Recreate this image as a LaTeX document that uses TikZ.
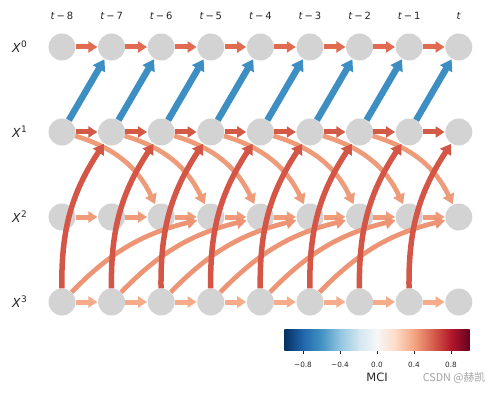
\documentclass[tikz,border=0pt]{standalone}
\usepackage{fontspec}
\setmainfont{DejaVu Sans}
\newfontfamily\cjkfont{Noto Sans CJK SC}
\usetikzlibrary{arrows.meta}
\definecolor{nodegray}{HTML}{D3D3D3}
\definecolor{cauto0}{HTML}{E06B50}
\definecolor{cauto1}{HTML}{D45A48}
\definecolor{cauto2}{HTML}{F09C7B}
\definecolor{cauto3}{HTML}{F6AC8B}
\definecolor{cblue}{HTML}{3D8FC3}
\definecolor{cthreeone}{HTML}{D35646}
\definecolor{conetwo}{HTML}{EE9B79}
\definecolor{cthreetwo}{HTML}{EC9474}
\definecolor{txt}{HTML}{262626}
\definecolor{rb0}{HTML}{053061}
\definecolor{rb1}{HTML}{2166AC}
\definecolor{rb2}{HTML}{4393C3}
\definecolor{rb3}{HTML}{92C5DE}
\definecolor{rb4}{HTML}{D1E5F0}
\definecolor{rb5}{HTML}{F7F7F7}
\definecolor{rb6}{HTML}{FDDBC7}
\definecolor{rb7}{HTML}{F4A582}
\definecolor{rb8}{HTML}{D6604D}
\definecolor{rb9}{HTML}{B2182B}
\definecolor{rb10}{HTML}{67001F}
\begin{document}
\begin{tikzpicture}[x=1pt,y=-1pt,
  var/.style={circle,fill=nodegray,minimum size=27pt,inner sep=0pt},
  arr/.style={line width=5pt,-{Triangle[width=11pt,length=9pt]},shorten >=0.5pt},
  arrthick/.style={line width=6.5pt,-{Triangle[width=13.5pt,length=11pt]},shorten >=0.5pt},
  arcarr/.style={line width=4.7pt,-{Triangle[width=12pt,length=10pt]},shorten >=0.5pt},
  redarc/.style={line width=5.5pt,-{Triangle[width=12.5pt,length=10pt]},shorten >=0.5pt},
  lab/.style={font=\fontsize{10}{12}\selectfont,text=txt},
  rowlab/.style={font=\fontsize{12.5}{14}\selectfont,text=txt},
  ticklab/.style={font=\fontsize{7.3}{8}\selectfont,text=txt}
]
\useasboundingbox (0,0) rectangle (503,393);
% nodes
\foreach \r/\yy in {0/47,1/132,2/217,3/302}{
  \foreach \c in {0,...,8}{
    \node[var] (n\r\c) at ({62+49.6*\c},\yy) {};
  }
}
% time labels
\foreach \c/\k in {0/8,1/7,2/6,3/5,4/4,5/3,6/2,7/1}{
  \node[lab] (tl\c) at ({62+49.6*\c},16) {\textit{t}\hspace{1.8pt}−\hspace{1.8pt}\k};
}
\node[lab] (tl8) at (458.8,16) {\textit{t}};
% row labels
\foreach \r/\yy in {0/47,1/132,2/217,3/302}{
  \node[rowlab] (rl\r) at (19.5,\yy) {\textit{X}\raisebox{4.8pt}{\fontsize{9}{9}\selectfont\r}};
}
% light links
\foreach \c [evaluate=\c as \d using int(\c+1)] in {0,...,7}{
  \draw[arr,cauto3] (n3\c) -- (n3\d);
  \draw[arr,cauto2] (n2\c) -- (n2\d);
}
\foreach \c [evaluate=\c as \d using int(\c+3)] in {0,...,5}{
  \draw[arcarr,cthreetwo] (n3\c) to[bend left=16] (n2\d);
}
\foreach \c [evaluate=\c as \d using int(\c+2)] in {0,...,6}{
  \draw[arcarr,conetwo] (n1\c) to[bend left=24] (n2\d);
}
% strong links
\foreach \c [evaluate=\c as \d using int(\c+1)] in {0,...,7}{
  \draw[arr,cauto0] (n0\c) -- (n0\d);
  \draw[arr,cauto1] (n1\c) -- (n1\d);
  \draw[redarc,cthreeone] (n3\c) to[bend left=17] (n1\d);
  \draw[arrthick,cblue] (n1\c) -- (n0\d);
}
% colorbar
\foreach \i [evaluate=\i as \j using int(\i+1)] in {0,...,9}{
  \shade[left color=rb\i,right color=rb\j]
    ({284.5+18.5*\i-0.2},329) rectangle ({284.5+18.5*\j+0.2},350.7);
}
\foreach \v/\t in {-0.8/−0.8,-0.4/−0.4,0/0.0,0.4/0.4,0.8/0.8}{
  \draw[line width=0.8pt,txt] ({377+92.5*\v},350.7) -- ({377+92.5*\v},354);
  \node[ticklab] (tk\t) at ({377+92.5*\v},364.5) {\t};
}
\node[font=\fontsize{11.5}{13}\selectfont,text=txt] (mci) at (377,377.5) {MCI};
\node[font=\cjkfont\fontsize{10.8}{12}\selectfont,text=black!36] (wm) at (454,378) {CSDN @赫凯};
\end{tikzpicture}
\end{document}
